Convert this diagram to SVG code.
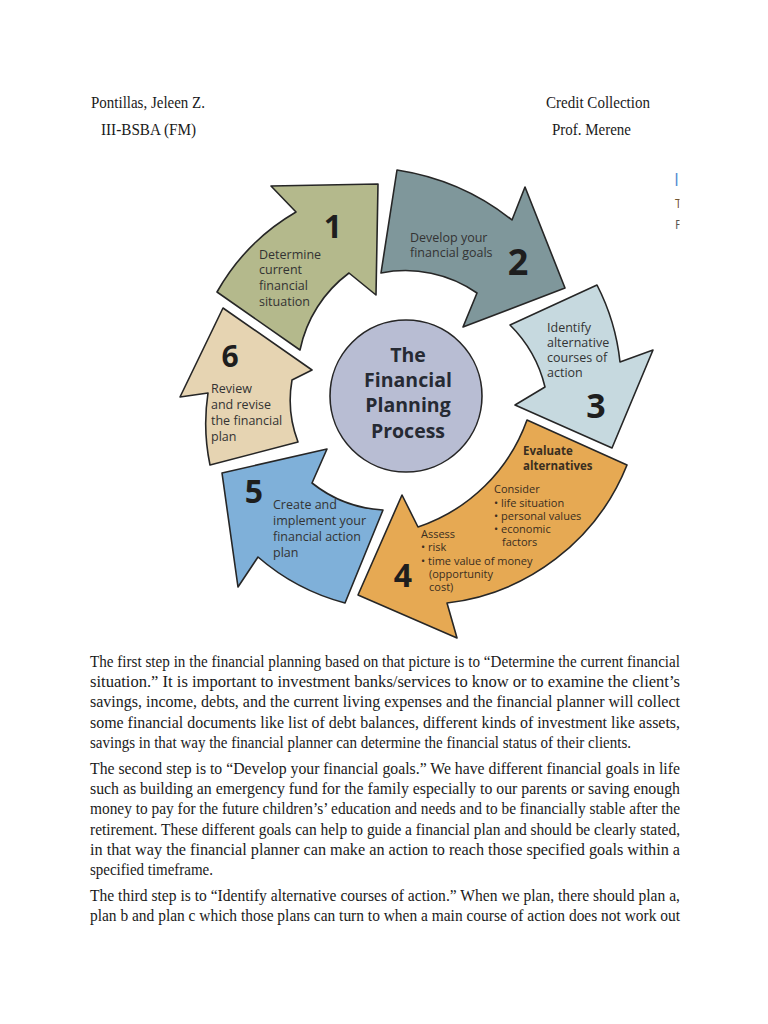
<svg xmlns="http://www.w3.org/2000/svg" width="768" height="1024" viewBox="0 0 768 1024">
<style>
.doc{font-family:"Liberation Serif","Times New Roman",serif;font-size:16.5px;fill:#1a1a1a}
.arr{stroke:#262626;stroke-width:1.6;stroke-linejoin:round}
.lbl{font-family:"Open Sans","Noto Sans",sans-serif;font-size:12.5px;fill:#333}
.sm{font-family:"Open Sans","Noto Sans",sans-serif;font-size:11px;fill:#3a2e1f}
.ev{font-family:"Open Sans","Noto Sans",sans-serif;font-size:11.5px;font-weight:700;fill:#3a2e1f}
.num{font-family:"Open Sans","Noto Sans",sans-serif;font-weight:700;fill:#1e1e1e;text-anchor:middle}
.ctr{font-family:"Open Sans","Noto Sans",sans-serif;font-size:19.5px;font-weight:700;fill:#262a33;text-anchor:middle}
</style>
<defs>
<clipPath id="edge"><rect x="660" y="160" width="19.5" height="80"/></clipPath>
</defs>
<rect width="768" height="1024" fill="#ffffff"/>

<g id="header">
<text class="doc" x="91" y="108" textLength="114" lengthAdjust="spacingAndGlyphs">Pontillas, Jeleen Z.</text>
<text class="doc" x="546" y="108" textLength="104" lengthAdjust="spacingAndGlyphs">Credit Collection</text>
<text class="doc" x="101" y="135" textLength="95" lengthAdjust="spacingAndGlyphs">III-BSBA (FM)</text>
<text class="doc" x="552" y="135" textLength="79" lengthAdjust="spacingAndGlyphs">Prof. Merene</text>
</g>

<g id="edge-fragments" clip-path="url(#edge)">
<text x="674" y="186" font-family="Open Sans, sans-serif" font-size="18" fill="#5a8fd2">I</text>
<text x="675" y="208" font-family="Open Sans, sans-serif" font-size="12" fill="#6e5538">T</text>
<text x="675" y="229" font-family="Open Sans, sans-serif" font-size="12" fill="#555">F</text>
</g>

<g id="connectors"></g>

<g id="step1">
<path class="arr" fill="#b4b98c" d="M217,292 A215,215 0 0 1 296,212 L271,186 L378,184 L376,295 L349,273 A128,128 0 0 0 300,350 Z"/>
<text class="num" x="333" y="238" font-size="32">1</text>
<text class="lbl" fill="#3b3a2c" x="259" y="259">Determine</text>
<text class="lbl" x="259" y="274">current</text>
<text class="lbl" x="259" y="290">financial</text>
<text class="lbl" x="259" y="306">situation</text>
</g>

<g id="step2">
<path class="arr" fill="#7f979b" d="M381,273 L397,170 Q462,180 512,220 L525,187 L565,288 L463,327 L477,293 A125,125 0 0 0 381,273 Z"/>
<text class="lbl" x="410" y="242">Develop your</text>
<text class="lbl" x="410" y="257">financial goals</text>
<text class="num" x="518" y="275" font-size="36">2</text>
</g>

<g id="step3">
<path class="arr" fill="#c6d9df" d="M510,325 L597,285 A219,219 0 0 1 620,362 L653,350 L612,448 L515,405 L545,387 A130,130 0 0 0 510,325 Z"/>
<text class="lbl" x="547" y="332">Identify</text>
<text class="lbl" x="547" y="347">alternative</text>
<text class="lbl" x="547" y="362">courses of</text>
<text class="lbl" x="547" y="377">action</text>
<text class="num" x="596" y="418" font-size="34" font-weight="600">3</text>
</g>

<g id="step4">
<path class="arr" fill="#e6a953" d="M527,420 L627,465 A222,222 0 0 1 447,603 L457,638 L358,595 L402,495 L418,527 A175,175 0 0 0 527,420 Z"/>
<text class="ev" x="523" y="455">Evaluate</text>
<text class="ev" x="523" y="470">alternatives</text>
<text class="sm" x="494" y="493">Consider</text>
<text class="sm" x="494" y="507">• life situation</text>
<text class="sm" x="494" y="520">• personal values</text>
<text class="sm" x="494" y="533">• economic</text>
<text class="sm" x="502" y="546">factors</text>
<text class="sm" x="421" y="538">Assess</text>
<text class="sm" x="421" y="551">• risk</text>
<text class="sm" x="421" y="565">• time value of money</text>
<text class="sm" x="429" y="578">(opportunity</text>
<text class="sm" x="429" y="591">cost)</text>
<text class="num" x="403" y="587" font-size="32">4</text>
</g>

<g id="step5">
<path class="arr" fill="#7fb0d9" d="M222,473 L327,449 L312,483 A125,125 0 0 0 383,510 L345,603 A217,217 0 0 1 258,557 L238,587 Z"/>
<text class="num" x="254" y="503" font-size="32">5</text>
<text class="lbl" x="273" y="509">Create and</text>
<text class="lbl" x="273" y="525">implement your</text>
<text class="lbl" x="273" y="541">financial action</text>
<text class="lbl" x="273" y="557">plan</text>
</g>

<g id="step6">
<path class="arr" fill="#e6d4b2" d="M223,308 L312,370 L292,380 A116,116 0 0 0 298,442 L210,465 A203,203 0 0 1 208,393 L180,397 Z"/>
<text class="num" x="230" y="367" font-size="30">6</text>
<text class="lbl" fill="#3e332c" x="211" y="393">Review</text>
<text class="lbl" fill="#3e332c" x="211" y="409">and revise</text>
<text class="lbl" fill="#3e332c" x="211" y="425">the financial</text>
<text class="lbl" fill="#3e332c" x="211" y="441">plan</text>
</g>

<g id="center">
<circle cx="406" cy="396" r="76" fill="#b8bdd3" stroke="#262626" stroke-width="1.6"/>
<text class="ctr" x="408" y="362">The</text>
<text class="ctr" x="408" y="387">Financial</text>
<text class="ctr" x="408" y="412">Planning</text>
<text class="ctr" x="408" y="438">Process</text>
</g>

<g id="body">
<text class="doc" x="90" y="667" textLength="590" lengthAdjust="spacingAndGlyphs">The first step in the financial planning based on that picture is to “Determine the current financial</text>
<text class="doc" x="90" y="687.2" textLength="590" lengthAdjust="spacingAndGlyphs">situation.” It is important to investment banks/services to know or to examine the client’s</text>
<text class="doc" x="90" y="707.4" textLength="590" lengthAdjust="spacingAndGlyphs">savings, income, debts, and the current living expenses and the financial planner will collect</text>
<text class="doc" x="90" y="727.6" textLength="590" lengthAdjust="spacingAndGlyphs">some financial documents like list of debt balances, different kinds of investment like assets,</text>
<text class="doc" x="90" y="747.8" textLength="541" lengthAdjust="spacingAndGlyphs">savings in that way the financial planner can determine the financial status of their clients.</text>
<text class="doc" x="90" y="774" textLength="590" lengthAdjust="spacingAndGlyphs">The second step is to “Develop your financial goals.” We have different financial goals in life</text>
<text class="doc" x="90" y="794.2" textLength="590" lengthAdjust="spacingAndGlyphs">such as building an emergency fund for the family especially to our parents or saving enough</text>
<text class="doc" x="90" y="814.4" textLength="590" lengthAdjust="spacingAndGlyphs">money to pay for the future children’s’ education and needs and to be financially stable after the</text>
<text class="doc" x="90" y="834.6" textLength="590" lengthAdjust="spacingAndGlyphs">retirement. These different goals can help to guide a financial plan and should be clearly stated,</text>
<text class="doc" x="90" y="854.8" textLength="590" lengthAdjust="spacingAndGlyphs">in that way the financial planner can make an action to reach those specified goals within a</text>
<text class="doc" x="90" y="875" textLength="123" lengthAdjust="spacingAndGlyphs">specified timeframe.</text>
<text class="doc" x="90" y="901.2" textLength="590" lengthAdjust="spacingAndGlyphs">The third step is to “Identify alternative courses of action.” When we plan, there should plan a,</text>
<text class="doc" x="90" y="921.4" textLength="590" lengthAdjust="spacingAndGlyphs">plan b and plan c which those plans can turn to when a main course of action does not work out</text>
</g>
</svg>
